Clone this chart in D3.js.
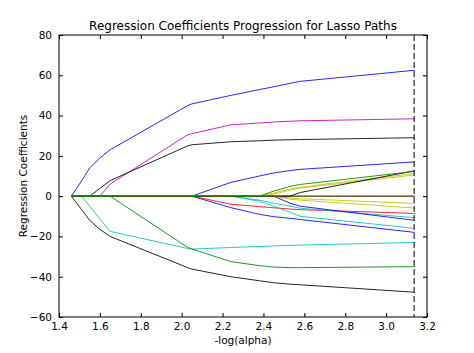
<!DOCTYPE html>
<html>
<head>
<meta charset="utf-8">
<script src="https://cdn.jsdelivr.net/npm/d3@7"></script>
<style>
  body { margin: 0; background: #fff; }
  svg text { font-family: "DejaVu Sans", sans-serif; fill: #000; }
</style>
</head>
<body>
<svg width="474" height="353"></svg>
<script>
// -log(alpha) at each breakpoint of the lasso path
var logAlphas = [1.46, 1.51, 1.55, 1.60, 1.65, 2.03, 2.05, 2.24, 2.38, 2.45, 2.53, 2.58, 3.14];

// coefficient values at each breakpoint
var coefZeroY    = [0, 0, 0, 0, 0, 0, 0, 0, 0, 0, 0, 0, 0];
var coefZeroK    = [0, 0, 0, 0, 0, 0, 0, 0, 0, 0, 0, 0, 0];
var coefBlueTop  = [0, 7.5, 14, 19, 23, 45, 45.8, 50, 52.9, 54.3, 56, 57, 62.5];
var coefMagenta  = [0, 0, 0, 0, 6, 30.5, 31, 35.4, 36.3, 36.8, 37.2, 37.4, 38.4];
var coefBlackUp  = [0, 0, 0, 3.8, 7.7, 25, 25.5, 27, 27.5, 27.8, 28, 28.1, 29];
var coefBlackLow = [0, -6.6, -12, -16.5, -20, -35.5, -36.2, -40, -42, -43, -43.7, -44, -47.7];
var coefCyanLow  = [0, 0, -5, -11.3, -17.5, -26, -26.3, -25.5, -25, -24.7, -24.4, -24.3, -23];
var coefGreenLow = [0, 0, 0, 0, 0, -25.5, -26.2, -32.5, -34.5, -35.2, -35.5, -35.5, -35];
var coefBlueUp   = [0, 0, 0, 0, 0, 0, 0, 6.8, 10, 11.5, 12.7, 13.3, 17];
var coefBlueDown = [0, 0, 0, 0, 0, 0, 0, -5.7, -9, -10.2, -11, -11.6, -18];
var coefRed      = [0, 0, 0, 0, 0, 0, 0, -4, -5.2, -5.8, -6.4, -6.7, -8.6];
var coefCyanA    = [0, 0, 0, 0, 0, 0, 0, 0, -2.5, -5, -8, -10, -16];
var coefCyanB    = [0, 0, 0, 0, 0, 0, 0, 0, -2, -3.5, -5, -6, -10.7];
var coefBlueLate = [0, 0, 0, 0, 0, 0, 0, 0, 0, 0, -3.5, -5, -12];
var coefYellowD1 = [0, 0, 0, 0, 0, 0, 0, 0, 0, 0, -1, -1.3, -3.6];
var coefYellowD2 = [0, 0, 0, 0, 0, 0, 0, 0, 0, 0, -1.5, -2, -5.9];
var coefYellowU1 = [0, 0, 0, 0, 0, 0, 0, 0, 0, 1.5, 3.5, 4.5, 11.2];
var coefYellowU2 = [0, 0, 0, 0, 0, 0, 0, 0, 0, 1, 3, 4, 10.5];
var coefBlackLate= [0, 0, 0, 0, 0, 0, 0, 0, 0, 0, 0, 1.8, 12.6];
var coefGreenUp  = [0, 0, 0, 0, 0, 0, 0, 0, 0, 2.5, 4.8, 5.8, 12.3];

// draw order matters: lines that stay at zero get covered by later ones
var series = [
  { color: "#bfbf00", values: coefZeroY },
  { color: "#000000", values: coefZeroK },
  { color: "#0000ff", values: coefBlueTop },
  { color: "#bf00bf", values: coefMagenta },
  { color: "#000000", values: coefBlackUp },
  { color: "#000000", values: coefBlackLow },
  { color: "#00bfbf", values: coefCyanLow },
  { color: "#0000ff", values: coefBlueUp },
  { color: "#0000ff", values: coefBlueDown },
  { color: "#ff0000", values: coefRed },
  { color: "#00bfbf", values: coefCyanA },
  { color: "#00bfbf", values: coefCyanB },
  { color: "#0000ff", values: coefBlueLate },
  { color: "#bfbf00", values: coefYellowD1 },
  { color: "#bfbf00", values: coefYellowD2 },
  { color: "#bfbf00", values: coefYellowU1 },
  { color: "#bfbf00", values: coefYellowU2 },
  { color: "#000000", values: coefBlackLate },
  { color: "#008000", values: coefGreenLow },
  { color: "#008000", values: coefGreenUp }
];

var xTicks = [1.4, 1.6, 1.8, 2.0, 2.2, 2.4, 2.6, 2.8, 3.0, 3.2];
var yTicks = [-60, -40, -20, 0, 20, 40, 60, 80];
var alphaChosen = 3.137;

var margin = { top: 35, right: 47, bottom: 36, left: 59 };
var width = 474 - margin.left - margin.right,
    height = 353 - margin.top - margin.bottom;

var svg = d3.select("svg");
var g = svg.append("g").attr("transform", "translate(" + margin.left + "," + margin.top + ")");

var x = d3.scaleLinear().domain([1.4, 3.2]).range([0, width]);
var y = d3.scaleLinear().domain([-60, 80]).range([height, 0]);

var fmtY = function(d) { return d < 0 ? "\u2212" + Math.abs(d) : "" + d; };

// clip so nothing leaks outside the frame
g.append("clipPath").attr("id", "clip")
  .append("rect").attr("width", width).attr("height", height);

var line = d3.line()
  .x(function(d, i) { return x(logAlphas[i]); })
  .y(function(d) { return y(d); });

var plot = g.append("g").attr("clip-path", "url(#clip)");

series.forEach(function(s) {
  plot.append("path")
    .datum(s.values)
    .attr("fill", "none")
    .attr("stroke", s.color)
    .attr("stroke-width", 1)
    .attr("stroke-opacity", 0.85)
    .attr("d", line);
});

// chosen alpha
plot.append("line")
  .attr("x1", x(alphaChosen)).attr("x2", x(alphaChosen))
  .attr("y1", 0).attr("y2", height)
  .attr("stroke", "#000")
  .attr("stroke-width", 1)
  .attr("stroke-dasharray", "6,3");

// axes, ticks pointing inward on all four sides
g.append("g")
  .attr("transform", "translate(0," + height + ")")
  .call(d3.axisBottom(x).tickValues(xTicks).tickFormat(d3.format(".1f")).tickSizeInner(-4).tickSizeOuter(0).tickPadding(6));
g.append("g")
  .call(d3.axisTop(x).tickValues(xTicks).tickFormat("").tickSizeInner(-4).tickSizeOuter(0));
g.append("g")
  .call(d3.axisLeft(y).tickValues(yTicks).tickFormat(fmtY).tickSizeInner(-4).tickSizeOuter(0).tickPadding(7));
g.append("g")
  .attr("transform", "translate(" + width + ",0)")
  .call(d3.axisRight(y).tickValues(yTicks).tickFormat("").tickSizeInner(-4).tickSizeOuter(0));

g.selectAll(".domain").remove();
g.selectAll(".tick line").attr("stroke", "#000");
g.selectAll(".tick text").style("font-size", "10.5px").attr("fill", "#000");

g.append("rect")
  .attr("width", width).attr("height", height)
  .attr("fill", "none").attr("stroke", "#000").attr("stroke-width", 1);

// labels
svg.append("text")
  .attr("x", margin.left + width / 2).attr("y", 30)
  .attr("text-anchor", "middle")
  .style("font-size", "12px")
  .text("Regression Coefficients Progression for Lasso Paths");

svg.append("text")
  .attr("x", margin.left + width / 2).attr("y", 344)
  .attr("text-anchor", "middle")
  .style("font-size", "10.5px")
  .text("-log(alpha)");

svg.append("text")
  .attr("transform", "translate(27," + (margin.top + height / 2) + ") rotate(-90)")
  .attr("text-anchor", "middle")
  .style("font-size", "10.5px")
  .text("Regression Coefficients");
</script>
</body>
</html>
